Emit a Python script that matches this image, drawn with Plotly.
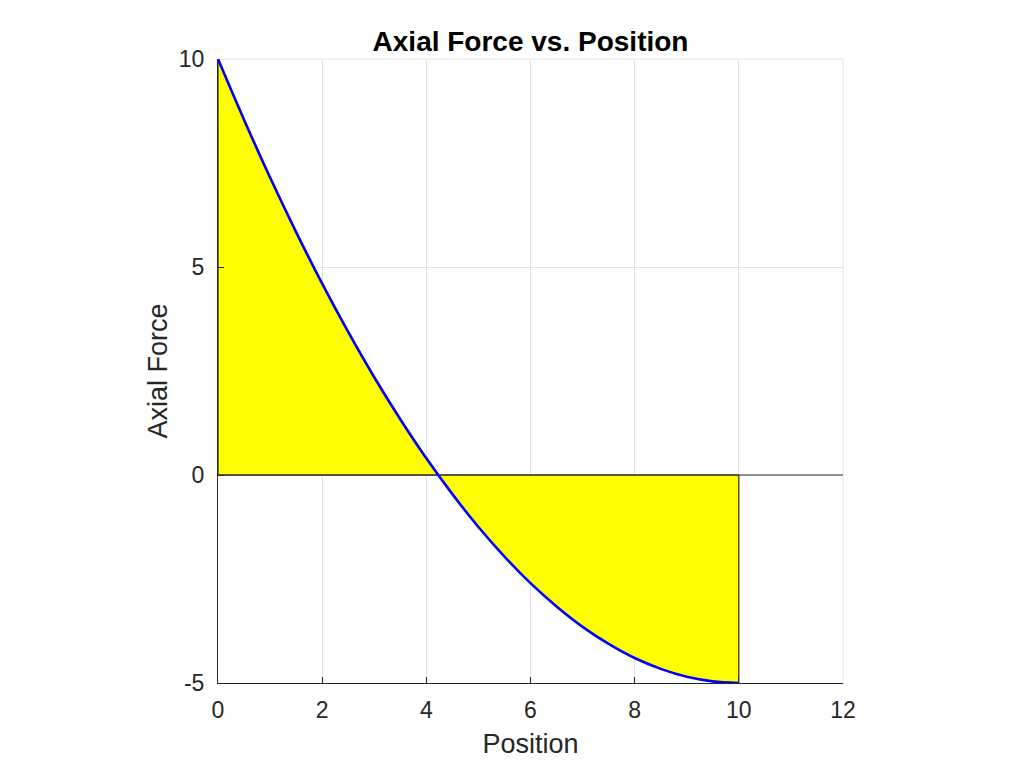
import plotly.graph_objects as go

# Position along the member and the axial force
position = [0, 0.5, 1, 1.5, 2, 2.5, 3, 3.5, 4, 4.5, 5, 5.5, 6, 6.5, 7, 7.5, 8, 8.5, 9, 9.5, 10]
axial_force = [10, 8.54, 7.15, 5.84, 4.6, 3.44, 2.35, 1.34, 0.4, -0.46, -1.25, -1.96,
               -2.6, -3.16, -3.65, -4.06, -4.4, -4.66, -4.85, -4.96, -5]

x_ticks = [0, 2, 4, 6, 8, 10, 12]
y_ticks = [-5, 0, 5, 10]
y_tick_labels = ["-5", "0", "5", "10"]

TXT = "#262626"
GRID = "#e3e3e3"
FONT = "Liberation Sans, Arial, Helvetica, sans-serif"

fig = go.Figure()

# filled area between curve and zero
fill_x = [position[0]] + position + [position[-1], position[0]]
fill_y = [0] + axial_force + [0, 0]
fig.add_trace(go.Scatter(
    x=fill_x, y=fill_y, mode="lines", fill="toself",
    fillcolor="#ffff00", line=dict(color="#000000", width=1),
    hoverinfo="skip", showlegend=False,
))

# zero reference line
fig.add_trace(go.Scatter(
    x=[x_ticks[0], x_ticks[-1]], y=[0, 0], mode="lines",
    line=dict(color="#333333", width=1), showlegend=False, hoverinfo="skip",
))

# axial force curve
fig.add_trace(go.Scatter(
    x=position, y=axial_force, mode="lines", line_shape="spline",
    line=dict(color="#0000ff", width=2.6), showlegend=False,
))

# grid lines along the top and right edges (MATLAB grid, box off)
fig.add_shape(type="line", xref="paper", yref="paper", x0=1, x1=1, y0=0, y1=1,
              line=dict(color=GRID, width=1), layer="below")
fig.add_shape(type="line", xref="paper", yref="paper", x0=0, x1=1, y0=1, y1=1,
              line=dict(color=GRID, width=1), layer="below")

fig.update_layout(
    width=1024, height=768,
    paper_bgcolor="white", plot_bgcolor="white",
    margin=dict(l=210, r=189, t=51, b=93),
    font=dict(family=FONT, color=TXT, size=23),
    title=dict(text="<b>Axial Force vs. Position</b>", x=0.5, xref="paper",
               y=1 - 33 / 768, yref="container", yanchor="middle",
               xanchor="center", font=dict(size=28, color="#000000", family=FONT)),
    xaxis=dict(
        range=[0, 12], tickvals=x_ticks, ticks="inside", ticklen=6, tickcolor=TXT,
        showline=True, linecolor=TXT, linewidth=1, mirror=False,
        showgrid=True, gridcolor=GRID, gridwidth=1, zeroline=False,
        tickfont=dict(size=23, color=TXT), ticklabelstandoff=6,
        title=dict(text="Position", font=dict(size=27, color=TXT), standoff=12),
    ),
    yaxis=dict(
        range=[-5, 10], tickvals=y_ticks, ticktext=y_tick_labels,
        ticks="inside", ticklen=6, tickcolor=TXT,
        showline=True, linecolor=TXT, linewidth=1, mirror=False,
        showgrid=True, gridcolor=GRID, gridwidth=1, zeroline=False,
        tickfont=dict(size=23, color=TXT), ticklabelstandoff=8,
        title=dict(text="Axial Force", font=dict(size=27, color=TXT), standoff=3),
    ),
)

fig.write_html("out.html")
